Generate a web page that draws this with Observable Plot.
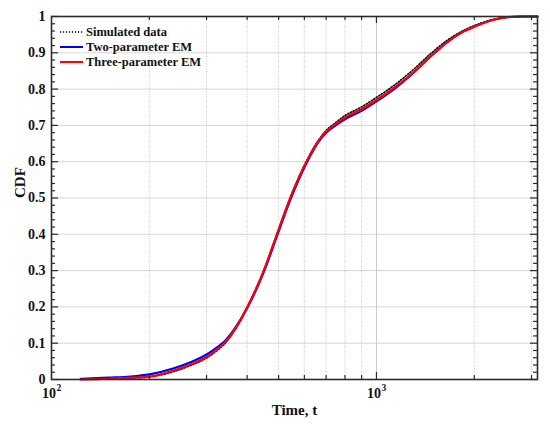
<!DOCTYPE html>
<html>
<head>
<meta charset="utf-8">
<script src="https://cdn.jsdelivr.net/npm/d3@7"></script>
<script src="https://cdn.jsdelivr.net/npm/@observablehq/plot@0.6"></script>
<style>
  html, body { margin: 0; padding: 0; background: #fff; }
  #chart { position: relative; width: 550px; height: 429px; }
</style>
</head>
<body>
<div id="chart"></div>
<script>
// ---- data ----
const timeValues = [123, 150, 175, 200, 238, 270, 300, 320, 339, 368, 400, 450, 494, 543, 609, 664, 700, 740, 800, 900, 1000, 1159, 1303, 1465, 1648, 1856, 2000, 2244, 2525, 2800, 3130];
const simulatedCDF = [0.000, 0.001, 0.004, 0.007, 0.022, 0.040, 0.059, 0.077, 0.096, 0.138, 0.197, 0.300, 0.401, 0.502, 0.602, 0.660, 0.686, 0.704, 0.727, 0.751, 0.777, 0.817, 0.855, 0.897, 0.934, 0.962, 0.975, 0.990, 0.998, 1.000, 1.000];
const twoParamCDF = [0.002, 0.005, 0.008, 0.014, 0.031, 0.049, 0.069, 0.086, 0.103, 0.143, 0.197, 0.296, 0.395, 0.495, 0.596, 0.655, 0.680, 0.697, 0.717, 0.740, 0.766, 0.807, 0.846, 0.889, 0.929, 0.959, 0.972, 0.989, 0.998, 1.000, 1.000];
const threeParamCDF = [0.000, 0.002, 0.005, 0.008, 0.025, 0.043, 0.062, 0.080, 0.099, 0.140, 0.199, 0.300, 0.400, 0.500, 0.600, 0.658, 0.683, 0.700, 0.722, 0.745, 0.770, 0.810, 0.847, 0.890, 0.929, 0.959, 0.972, 0.989, 0.998, 1.000, 1.000];

const seriesNames = ["Simulated data", "Two-parameter EM", "Three-parameter EM"];
const xDomain = [100, 3130];
const xMajorTicks = [100, 1000];
const xMinorTicks = [200, 300, 400, 500, 600, 700, 800, 900, 2000, 3000];
const yMajorTicks = [0, 0.1, 0.2, 0.3, 0.4, 0.5, 0.6, 0.7, 0.8, 0.9, 1];
const yMinorTicks = d3.range(0, 51).map(i => i / 50).filter(v => Math.round(v * 50) % 5 !== 0);

// ---- build tables ----
const sim = timeValues.map((t, i) => ({t, p: simulatedCDF[i]}));
const two = timeValues.map((t, i) => ({t, p: twoParamCDF[i]}));
const three = timeValues.map((t, i) => ({t, p: threeParamCDF[i]}));

const W = 550, H = 429, ML = 51, MR = 13, MT = 16, MB = 50;
const innerW = W - ML - MR, innerH = H - MT - MB;
const font = "Liberation Serif, Times New Roman, serif";
const frameColor = "#2b2b2b";
const tickStyle = {stroke: frameColor, strokeWidth: 1.2};

const plot = Plot.plot({
  width: W,
  height: H,
  marginLeft: ML,
  marginRight: MR,
  marginTop: MT,
  marginBottom: MB,
  style: {fontFamily: font, fontWeight: "bold", background: "#fff"},
  x: {type: "log", domain: xDomain, axis: null},
  y: {domain: [0, 1], axis: null},
  marks: [
    // grid
    Plot.ruleY(yMajorTicks.slice(1, -1), {stroke: "#d6d6d6", strokeWidth: 1}),
    Plot.ruleX(xMinorTicks, {stroke: "#b8b8b8", strokeWidth: 0.8, strokeDasharray: "1,1.5"}),
    Plot.ruleX([1000], {stroke: "#c8c8c8", strokeWidth: 1}),
    // series
    Plot.line(sim, {x: "t", y: "p", stroke: "#000", strokeWidth: 1.6, strokeDasharray: "1.2,1.8", curve: "monotone-x"}),
    Plot.line(two, {x: "t", y: "p", stroke: "#0000ff", strokeWidth: 2.2, curve: "monotone-x"}),
    Plot.line(three, {x: "t", y: "p", stroke: "#ff0000", strokeWidth: 2.2, curve: "monotone-x"}),
    // ticks (inward on all four sides)
    Plot.tickX(xMinorTicks, {x: d => d, insetTop: innerH - 4, ...tickStyle}),
    Plot.tickX(xMinorTicks, {x: d => d, insetBottom: innerH - 4, ...tickStyle}),
    Plot.tickX([1000], {x: d => d, insetTop: innerH - 7, ...tickStyle}),
    Plot.tickX([1000], {x: d => d, insetBottom: innerH - 7, ...tickStyle}),
    Plot.tickY(yMajorTicks, {y: d => d, insetRight: innerW - 7, ...tickStyle}),
    Plot.tickY(yMajorTicks, {y: d => d, insetLeft: innerW - 7, ...tickStyle}),
    Plot.tickY(yMinorTicks, {y: d => d, insetRight: innerW - 4, ...tickStyle}),
    Plot.tickY(yMinorTicks, {y: d => d, insetLeft: innerW - 4, ...tickStyle}),
    Plot.frame({stroke: frameColor, strokeWidth: 1.6}),
    // tick labels
    Plot.text(yMajorTicks, {y: d => d, text: d => String(Math.round(d * 10) / 10), frameAnchor: "left", textAnchor: "end", dx: -6, fontSize: 14, fontWeight: "bold", fill: "#111"}),
    Plot.text(xMajorTicks, {x: d => d, text: () => "10", frameAnchor: "bottom", dy: 18, dx: -2.5, fontSize: 14, fontWeight: "bold", fill: "#111"}),
    Plot.text(xMajorTicks, {x: d => d, text: d => String(Math.round(Math.log10(d))), frameAnchor: "bottom", dy: 11, dx: 5, textAnchor: "start", fontSize: 9.5, fontWeight: "bold", fill: "#111"}),
    // axis titles
    Plot.text(["Time, t"], {text: d => d, frameAnchor: "bottom", dy: 35, fontSize: 15, fontWeight: "bold", fill: "#111"}),
    Plot.text(["CDF"], {text: d => d, frameAnchor: "left", dx: -31, rotate: -90, fontSize: 15, fontWeight: "bold", fill: "#111"})
  ]
});

document.getElementById("chart").appendChild(plot);

// legend (inside plot, top-left)
const svg = d3.select(plot);
const legendColors = ["#000", "#0000ff", "#ff0000"];
const legendDash = ["1.2,1.8", null, null];
const lg = svg.append("g")
  .attr("font-family", font).attr("font-weight", "bold").attr("font-size", 12.5)
  .attr("text-anchor", "start");
seriesNames.forEach((name, i) => {
  const y = 32 + i * 15;
  lg.append("line").attr("x1", 60).attr("x2", 83).attr("y1", y).attr("y2", y)
    .attr("stroke", legendColors[i]).attr("stroke-width", i === 0 ? 1.6 : 2)
    .attr("stroke-dasharray", legendDash[i]);
  lg.append("text").attr("x", 86).attr("y", y).attr("dy", "0.35em")
    .attr("text-anchor", "start").attr("fill", "#111").text(name);
});
</script>
</body>
</html>
